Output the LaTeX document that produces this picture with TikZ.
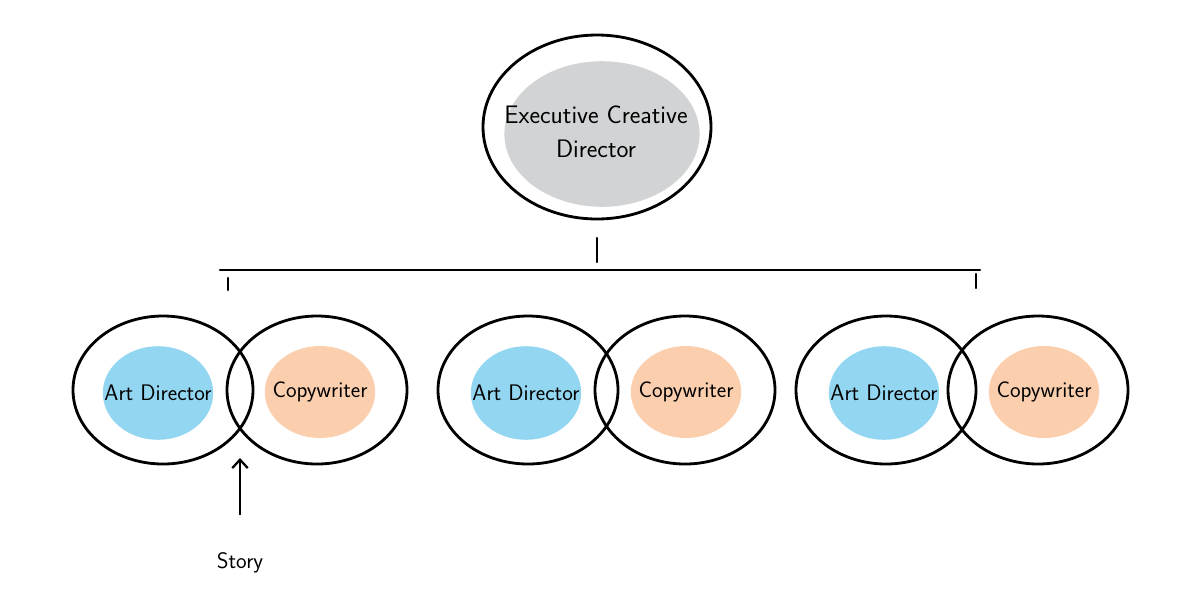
\documentclass[tikz,border=0pt]{standalone}
\usetikzlibrary{shapes.geometric,arrows.meta}
\definecolor{ecdgray}{HTML}{D1D3D4}
\definecolor{artblue}{HTML}{92D6F1}
\definecolor{copypeach}{HTML}{FBCFAE}
\begin{document}
\begin{tikzpicture}[
  font=\sffamily\fontsize{16}{23}\selectfont,
  ringbox/.style={ellipse, draw=black, line width=2pt, minimum width=4.5cm, minimum height=3.7cm},
  topring/.style={ellipse, draw=black, line width=2pt, minimum width=5.7cm, minimum height=4.6cm},
  ecdtext/.style={align=center, font=\sffamily\fontsize{18}{24}\selectfont},
  artblob/.style={fill=artblue},
  copyblob/.style={fill=copypeach},
  bar/.style={line width=1.6pt, line cap=round},
  arr/.style={line width=1.6pt, ->, >={Straight Barb[length=6pt,width=11pt,line width=1.6pt]}}
]
\useasboundingbox (0,0) rectangle (30,-15.175);

\fill [ecdgray] (15.05,-3.35) ellipse [x radius=2.44cm, y radius=1.82cm];
\fill [artblob] (3.95,-9.825) ellipse [x radius=1.38cm, y radius=1.17cm];
\fill [copyblob] (8.0,-9.8) ellipse [x radius=1.38cm, y radius=1.15cm];
\fill [artblob] (13.15,-9.825) ellipse [x radius=1.38cm, y radius=1.17cm];
\fill [copyblob] (17.15,-9.8) ellipse [x radius=1.38cm, y radius=1.15cm];
\fill [artblob] (22.1,-9.825) ellipse [x radius=1.38cm, y radius=1.17cm];
\fill [copyblob] (26.1,-9.8) ellipse [x radius=1.38cm, y radius=1.15cm];

\node (ecd) [ecdtext] at (14.9,-3.3) {Executive Creative\\Director};
\node (ecdring) [topring] at (14.925,-3.175) {};

\node (art1) at (3.95,-9.825) {Art Director};
\node (copy1) at (8.0,-9.8) {Copywriter};
\node (art2) at (13.15,-9.825) {Art Director};
\node (copy2) at (17.15,-9.8) {Copywriter};
\node (art3) at (22.1,-9.825) {Art Director};
\node (copy3) at (26.1,-9.8) {Copywriter};

\node (artring1) [ringbox] at (4.075,-9.75) {};
\node (copyring1) [ringbox] at (7.925,-9.75) {};
\node (artring2) [ringbox] at (13.2,-9.75) {};
\node (copyring2) [ringbox] at (17.125,-9.75) {};
\node (artring3) [ringbox] at (22.15,-9.75) {};
\node (copyring3) [ringbox] at (25.95,-9.75) {};

\node (story) at (6.0,-14.075) {Story};
\coordinate (storytail) at (6.0,-12.875);
\coordinate (storyhead) at (6.0,-11.45);

\coordinate (stemtop) at (14.925,-5.95);
\coordinate (stembot) at (14.925,-6.55);
\coordinate (barleft) at (5.5,-6.75);
\coordinate (barright) at (24.5,-6.75);
\coordinate (tickleft) at (5.7,-7.25);
\coordinate (tickright) at (24.4,-7.2);

\draw [bar] (stemtop) -- (stembot);
\draw [bar] (barleft) -- (barright);
\draw [bar] (tickleft) -- ++(0,0.3);
\draw [bar] (tickright) -- ++(0,0.35);
\draw [arr] (storytail) -- (storyhead);

\end{tikzpicture}
\end{document}
